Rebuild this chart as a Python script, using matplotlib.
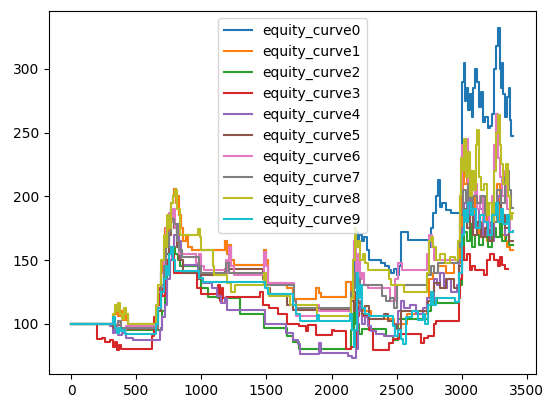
import matplotlib
matplotlib.use('Agg')
import matplotlib.pyplot as plt

# breakpoints (day index, equity), drawn as steps
c1_x = [0, 330, 345, 360, 380, 400, 420, 440, 650, 670, 690, 705, 720, 735, 750, 765, 780, 790, 805, 815, 830, 845, 860, 880, 900, 930,
        1185, 1200, 1215, 1230, 1250, 1480, 1495, 1510, 1660, 1700, 1880, 1900, 1920, 2110, 2150, 2170, 2190, 2210, 2250, 2300, 2400, 2480,
        2580, 2730, 2750, 2780, 2820, 2880, 2940, 2985, 3000, 3010, 3020, 3040, 3060, 3080, 3100, 3130, 3160, 3190, 3220, 3250, 3270, 3290,
        3310, 3330, 3350, 3370, 3390]
c1_y = [100, 108, 113, 106, 110, 103, 108, 100, 105, 120, 140, 150, 175, 165, 185, 195, 200, 206, 195, 200, 185, 175, 165, 170, 160, 158,
        165, 155, 162, 150, 146, 158, 150, 132, 128, 119, 128, 124, 121, 133, 108, 125, 118, 112, 110, 106, 104, 100,
        108, 120, 135, 140, 145, 140, 148, 170, 200, 240, 210, 225, 190, 200, 180, 170, 185, 165, 175, 195, 210, 180,
        170, 165, 160, 158, 158]

c0_x = c1_x[:40] + [2150, 2170, 2185, 2200, 2210, 2230, 2250, 2270, 2285, 2380, 2410, 2440, 2460, 2480, 2500, 2515, 2530, 2585, 2745,
                    2760, 2780, 2800, 2815, 2830, 2850, 2880, 2920, 2990, 3005, 3015, 3025, 3035, 3045, 3060, 3075, 3090, 3105,
                    3115, 3130, 3150, 3165, 3180, 3200, 3220, 3235, 3250, 3265, 3280, 3290, 3300, 3310, 3320, 3335, 3350, 3362,
                    3372, 3380, 3390]
c0_y = c1_y[:40] + [130, 165, 172, 160, 170, 165, 168, 158, 150, 148, 145, 142, 140, 143, 138, 145, 172, 166, 160,
                    175, 187, 200, 213, 192, 195, 189, 187, 187, 290, 305, 275, 285, 268, 280, 262, 285, 300,
                    290, 270, 282, 258, 262, 254, 255, 265, 300, 318, 332, 300, 285, 305, 280, 262, 278, 285,
                    260, 247, 247]

c2_x = [0, 330, 360, 690, 700, 720, 740, 760, 780, 800, 820, 838, 980, 1000, 1050, 1130, 1300, 1480, 1660, 1700, 1750, 2150, 2170, 2190,
        2210, 2230, 2420, 2470, 2510, 2740, 2760, 2790, 2810, 2980, 3000, 3020, 3040, 3060, 3080, 3100, 3130, 3160, 3200, 3230,
        3260, 3290, 3310, 3340, 3360, 3390]
c2_y = [100, 98, 95, 97, 110, 125, 140, 150, 160, 155, 150, 145, 135, 128, 121, 120, 108, 97, 90, 86, 80, 95, 110, 100,
        92, 96, 90, 87, 104, 110, 115, 120, 116, 130, 150, 172, 165, 178, 160, 170, 162, 168, 160, 175,
        168, 180, 165, 170, 162, 162]

c3_x = [0, 195, 235, 260, 300, 320, 335, 350, 365, 380, 620, 640, 660, 680, 700, 720, 740, 755, 770, 790, 970, 1000, 1130, 1140,
        1155, 1170, 1190, 1450, 1470, 1520, 1585, 1660, 1750, 1800, 1820, 1880, 2000, 2020, 2110, 2150, 2195, 2210, 2230, 2290,
        2320, 2440, 2470, 2515, 2690, 2710, 2740, 2790, 2800, 2975, 2990, 3005, 3020, 3040, 3060, 3080, 3100, 3170, 3190, 3220,
        3250, 3275, 3290, 3310, 3330, 3355]
c3_y = [100, 88, 89, 86, 87, 82, 86, 79, 83, 80, 90, 105, 115, 128, 122, 140, 150, 160, 155, 140, 128, 123, 130, 118,
        128, 120, 121, 125, 115, 112, 108, 100, 98, 94, 99, 91, 95, 94, 80, 82, 106, 113, 106, 95,
        79, 85, 88, 92, 85, 89, 90, 100, 102, 120, 135, 160, 150, 155, 142, 145, 142, 138, 150, 155,
        150, 145, 152, 146, 143, 143]

c4_x = [0, 300, 320, 340, 360, 390, 420, 475, 685, 700, 720, 740, 760, 775, 790, 810, 825, 840, 860, 975, 990, 1010, 1080, 1120,
        1150, 1180, 1200, 1490, 1650, 1700, 1740, 1760, 1900, 1920, 2130, 2160, 2190, 2200, 2215, 2230, 2260, 2280, 2300, 2340,
        2400, 2490, 2510, 2530, 2560, 2600, 2650, 2700, 2730, 2760, 2790, 2810, 2830, 2860, 2890, 2920, 2960, 2980, 3000, 3020,
        3040, 3060, 3080, 3100, 3130, 3160, 3190, 3220, 3250, 3280, 3300, 3330, 3360, 3390]
c4_y = [100, 98, 93, 96, 91, 93, 89, 87, 95, 105, 115, 135, 150, 160, 170, 178, 165, 150, 146, 140, 135, 132, 128, 122,
        116, 120, 111, 100, 93, 87, 84, 76, 85, 77, 75, 73, 80, 110, 118, 100, 105, 98, 94, 92,
        90, 100, 110, 118, 112, 115, 108, 112, 120, 118, 135, 130, 140, 128, 135, 125, 130, 150, 175, 195,
        180, 200, 185, 175, 190, 170, 180, 165, 185, 200, 180, 170, 165, 165]

c5_x = [0, 320, 350, 380, 670, 690, 710, 730, 750, 770, 790, 810, 830, 860, 980, 1000, 1180, 1470, 1500, 1525, 1660, 1700, 2150,
        2170, 2190, 2200, 2230, 2260, 2290, 2400, 2430, 2470, 2500, 2530, 2740, 2760, 2790, 2830, 2880, 2940, 2980, 3000, 3020,
        3040, 3060, 3090, 3120, 3150, 3180, 3210, 3240, 3270, 3300, 3330, 3360, 3390]
c5_y = [100, 97, 99, 96, 110, 125, 140, 155, 170, 180, 175, 160, 150, 140, 135, 138, 143, 135, 128, 123, 115, 111, 118,
        110, 125, 116, 108, 114, 104, 108, 102, 99, 96, 110, 118, 125, 132, 128, 135, 128, 145, 170, 190,
        175, 185, 170, 180, 168, 175, 165, 180, 195, 185, 175, 165, 165]

c6_x = [0, 320, 340, 360, 380, 420, 650, 670, 690, 710, 730, 750, 765, 780, 795, 810, 830, 960, 980, 1000, 1020, 1190, 1200, 1215,
        1230, 1250, 1480, 1495, 1510, 1710, 1730, 1890, 1900, 2150, 2165, 2175, 2185, 2200, 2215, 2230, 2250, 2280, 2450, 2490,
        2510, 2540, 2730, 2750, 2770, 2790, 2970, 2990, 3005, 3015, 3030, 3045, 3060, 3080, 3100, 3120, 3140, 3160, 3180, 3210,
        3230, 3250, 3262, 3275, 3290, 3310, 3330, 3350, 3370, 3390]
c6_y = [100, 104, 97, 101, 96, 98, 110, 125, 140, 160, 175, 187, 180, 190, 175, 165, 155, 148, 155, 145, 142, 150, 140, 160,
        145, 138, 156, 145, 132, 118, 106, 115, 110, 120, 150, 165, 140, 155, 135, 140, 130, 128, 118, 135,
        148, 142, 155, 170, 160, 150, 165, 200, 240, 225, 245, 210, 220, 200, 210, 190, 200, 180, 195, 175,
        200, 240, 265, 230, 215, 200, 220, 190, 172, 172]

c7_x = [0, 330, 360, 380, 670, 690, 710, 730, 750, 770, 790, 810, 830, 850, 980, 1000, 1190, 1210, 1480, 1710, 1730, 2150, 2170,
        2185, 2200, 2220, 2390, 2420, 2450, 2480, 2500, 2730, 2760, 2790, 2820, 2970, 2990, 3010, 3030, 3050, 3070, 3090, 3120,
        3150, 3180, 3210, 3240, 3270, 3300, 3330, 3350, 3365, 3380, 3390]
c7_y = [100, 99, 102, 97, 112, 130, 145, 160, 172, 182, 178, 165, 158, 152, 145, 140, 148, 140, 130, 118, 112, 125, 140,
        128, 135, 130, 122, 118, 120, 112, 130, 138, 145, 140, 148, 160, 185, 205, 195, 210, 190, 200, 195,
        200, 185, 195, 180, 205, 195, 215, 220, 205, 191, 191]

c8_x = [0, 325, 335, 350, 360, 375, 390, 405, 420, 440, 650, 670, 690, 710, 725, 740, 755, 770, 785, 800, 815, 838, 975, 990, 1000,
        1090, 1100, 1200, 1230, 1260, 1480, 1500, 1520, 1680, 1890, 2150, 2165, 2178, 2190, 2205, 2220, 2240, 2260, 2280, 2440,
        2460, 2560, 2730, 2745, 2760, 2780, 2800, 2830, 2870, 2910, 2950, 2970, 2985, 2995, 3005, 3020, 3035, 3050, 3065, 3080,
        3095, 3110, 3120, 3135, 3150, 3170, 3190, 3210, 3230, 3250, 3265, 3280, 3290, 3305, 3320, 3340, 3355, 3370, 3385, 3390]
c8_y = [100, 108, 115, 110, 116, 108, 104, 112, 108, 100, 115, 130, 150, 170, 160, 185, 175, 195, 200, 205, 190, 170, 174, 168, 158,
        145, 138, 132, 125, 130, 140, 128, 122, 115, 106, 120, 150, 175, 160, 165, 150, 155, 148, 142, 135,
        130, 125, 140, 165, 168, 160, 150, 155, 148, 152, 150, 165, 200, 230, 220, 245, 215, 235, 200, 220,
        205, 240, 252, 215, 205, 210, 185, 195, 180, 220, 250, 264, 240, 225, 210, 225, 200, 182, 187, 187]

c9_x = [0, 320, 335, 350, 365, 380, 400, 415, 650, 670, 690, 710, 725, 740, 755, 770, 785, 800, 985, 1015, 1490, 1510, 1700, 1730,
        1760, 1890, 1905, 2140, 2160, 2170, 2180, 2195, 2205, 2215, 2230, 2260, 2290, 2470, 2490, 2510, 2530, 2550, 2570, 2620,
        2660, 2700, 2720, 2740, 2760, 2780, 2800, 2950, 2980, 3000, 3015, 3030, 3050, 3070, 3090, 3110, 3140, 3170, 3200, 3230,
        3260, 3280, 3300, 3320, 3345, 3365, 3390]
c9_y = [100, 105, 97, 93, 97, 94, 95, 92, 100, 112, 125, 135, 145, 138, 155, 160, 150, 141, 136, 133, 128, 123, 115, 108,
        102, 107, 102, 108, 95, 82, 95, 140, 120, 130, 112, 108, 106, 98, 90, 95, 88, 84, 105, 110,
        103, 108, 100, 115, 125, 115, 120, 117, 140, 170, 189, 180, 195, 185, 190, 175, 185, 180, 170, 185,
        195, 180, 190, 178, 185, 172, 173]

xs = [c0_x, c1_x, c2_x, c3_x, c4_x, c5_x, c6_x, c7_x, c8_x, c9_x]
ys = [c0_y, c1_y, c2_y, c3_y, c4_y, c5_y, c6_y, c7_y, c8_y, c9_y]

fig = plt.figure(figsize=(5.52, 4.11), dpi=100)
ax = fig.add_axes([49 / 552, 37 / 411, 487 / 552, 363 / 411])

for i in range(10):
    ax.plot(xs[i], ys[i], drawstyle='steps-post', label='equity_curve%d' % i)

ax.set_xlim(-170, 3570)
ax.set_ylim(60.5, 345.5)
ax.legend(loc='upper center')
fig.savefig('out.png', dpi=100)
